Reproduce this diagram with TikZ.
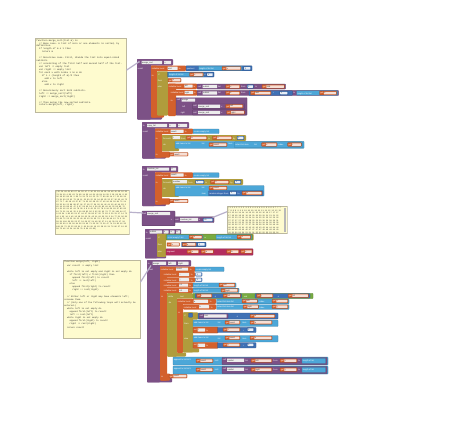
\documentclass[tikz,border=0pt]{standalone}
\usepackage{fontspec}
\setmainfont{Liberation Sans}
\setmonofont{Liberation Mono}
\usepackage{tikz}

\definecolor{procC}{HTML}{7C5186}
\definecolor{varC}{HTML}{D3602C}
\definecolor{ctrlC}{HTML}{B09C3C}
\definecolor{listC}{HTML}{4CA7D8}
\definecolor{mathC}{HTML}{3F71B5}
\definecolor{logicC}{HTML}{77AB41}
\definecolor{textC}{HTML}{B32D5E}
\definecolor{noteC}{HTML}{FEFBCF}
\definecolor{noteD}{HTML}{BCB89E}
\definecolor{linkC}{HTML}{B9B1CB}

\newcommand{\bfont}{\fontsize{2.1}{2.3}\selectfont}
\newcommand{\cfont}{\ttfamily\fontsize{2.3}{2.95}\selectfont}
\newcommand{\dfont}{\ttfamily\fontsize{2.2}{3.1}\selectfont}
\newcommand{\numfont}{\ttfamily\fontsize{1.9}{2.45}\selectfont}
\newcommand{\ind}{\hspace*{1.2em}}

% block with its label in the top row
\newcommand{\blk}[6]{\filldraw[#1] (#2,#3) rectangle (#4,#5);
  \node[lbl] at (#2,#3+3.3) {#6};}
% block with no label of its own
\newcommand{\plainblk}[5]{\filldraw[#1] (#2,#3) rectangle (#4,#5);}
% get block
\newcommand{\getb}[4]{\filldraw[varblk] (#1,#2) rectangle (#3,#2+3.6);
  \fill[white!80!varC, rounded corners=0.3pt] (#1+4.3,#2+0.55) rectangle (#3-0.6,#2+3.05);
  \node[lbl] at (#1,#2+2.6) {get};
  \node[fld] at (#1+4.6,#2+2.55) {#4};}
% number block
\newcommand{\numb}[4]{\filldraw[mathblk] (#1,#2) rectangle (#3,#2+3.6);
  \fill[white!88!mathC, rounded corners=0.3pt] (#1+0.7,#2+0.55) rectangle (#3-0.7,#2+3.05);
  \node[fld] at (#1+1.1,#2+2.55) {#4};}
% name field
\newcommand{\fieldb}[4]{\fill[white!93!black, rounded corners=0.3pt] (#1,#2) rectangle (#3,#2+3.2);
  \node[fld] at (#1+0.5,#2+2.4) {#4};}

\begin{document}
\begin{tikzpicture}[x=1pt, y=-1pt]
    \tikzset{
        procfill/.style={fill=procC, rounded corners=0.8pt},
        varfill/.style={fill=varC, rounded corners=0.8pt},
        ctrlfill/.style={fill=ctrlC, rounded corners=0.8pt},
        procblk/.style={fill=procC, draw=procC!70!black, line width=0.2pt, rounded corners=0.5pt},
        varblk/.style={fill=varC, draw=varC!75!black, line width=0.2pt, rounded corners=0.5pt},
        listblk/.style={fill=listC, draw=listC!75!black, line width=0.2pt, rounded corners=0.5pt},
        mathblk/.style={fill=mathC, draw=mathC!75!black, line width=0.2pt, rounded corners=0.5pt},
        logicblk/.style={fill=logicC, draw=logicC!75!black, line width=0.2pt, rounded corners=0.5pt},
        textblk/.style={fill=textC, draw=textC!75!black, line width=0.2pt, rounded corners=0.5pt},
        lbl/.style={anchor=base west, inner sep=0pt, xshift=0.7pt, font=\bfont, text=white},
        fld/.style={anchor=base west, inner sep=0pt, font=\bfont, text=black!80},
        note/.style={draw=noteD, fill=noteC, line width=0.4pt, anchor=north west,
            inner sep=1.2pt, text=black!80},
        link/.style={draw=linkC, line width=1.2pt},
    }
    \fill[white] (0,0) rectangle (474,442);
    \useasboundingbox (0,0) rectangle (474,442);

    % ==== merge_sort ====
    \fill[procfill] (137,59) rectangle (173,65.5);
    \fill[procfill] (137,59) rectangle (151,119.5);
    \fill[procfill] (137,115) rectangle (162,119.5);
    \node[lbl] (msort) at (137,63.6) {to};
    \fieldb{141.5}{60.8}{162}{merge\_sort}
    \fieldb{164}{60.8}{171}{x}
    \node[lbl] at (137,69.6) {result};
    \fill[varfill] (151,65.5) rectangle (186,71);
    \fill[varfill] (151,65.5) rectangle (157,117.5);
    \fill[varfill] (151,113) rectangle (164,117.5);
    \node[lbl] at (151,69.6) {initialize local};
    \fieldb{167.5}{66.6}{177.5}{mid}
    \node[lbl] at (178,69.6) {to};
    \node[lbl] at (151,76) {in};
    \blk{mathblk}{186}{65.8}{252}{70.8}{quotient}
    \blk{listblk}{198.5}{66.2}{242}{70.4}{length of list list}
    \getb{222}{66.5}{241}{x}
    \numb{243.5}{66.5}{251}{2}
    \fill[ctrlfill] (157,71.3) rectangle (168,115.5);
    \node[lbl] at (157.5,75.6) {if};
    \node[lbl] at (157,81.6) {then};
    \node[lbl] at (157,87.6) {else};
    \plainblk{mathblk}{167.5}{72}{214}{77}
    \blk{listblk}{168.3}{72.5}{204}{76.5}{length of list list}
    \getb{189.5}{72.7}{203.3}{x}
    \node[lbl] at (203.6,75.6) {≤};
    \numb{206.5}{72.7}{213.3}{1}
    \getb{168}{78.4}{181}{x}
    % split into halves
    \fill[varfill] (168,83.5) rectangle (197,89);
    \fill[varfill] (168,83.5) rectangle (176,116);
    \node[lbl] at (168,87.6) {initialize local};
    \fieldb{184.3}{84.5}{192.5}{left}
    \node[lbl] at (192.7,87.6) {to};
    \fill[varfill] (170,89.8) rectangle (197,95.6);
    \node[lbl] at (170,93.9) {initialize local};
    \fieldb{184.5}{90.9}{193}{right}
    \node[lbl] at (193,93.9) {to};
    \node[lbl] at (170,101.4) {in};
    \blk{procblk}{197}{84}{285.5}{89}{call}
    \fieldb{202.5}{84.9}{217}{sublist}
    \node[lbl] at (217.3,87.3) {list};
    \getb{225.5}{84.7}{240}{x}
    \node[lbl] at (240.2,87.3) {from};
    \numb{247}{84.7}{253.5}{1}
    \node[lbl] at (254.5,87.3) {to};
    \getb{262}{84.7}{284.5}{mid}
    \blk{procblk}{197}{90.4}{338.5}{95.6}{call}
    \fieldb{202.5}{91.4}{217}{sublist}
    \node[lbl] at (217.3,93.8) {list};
    \getb{225.5}{91.2}{240}{x}
    \node[lbl] at (240.2,93.8) {from};
    \plainblk{mathblk}{249}{90.8}{292.5}{95.3}
    \getb{250.5}{91.2}{271}{mid}
    \node[lbl] at (272,93.8) {+};
    \numb{279.5}{91.2}{288}{1}
    \node[lbl] at (292.5,93.8) {to};
    \blk{listblk}{296.5}{90.8}{337.5}{95.2}{length of list list}
    \getb{319.5}{91.2}{336.5}{x}
    % merge both sorted halves
    \blk{procblk}{176}{97.6}{247}{115.2}{call}
    \fieldb{181.5}{98.5}{195}{merge}
    \node[lbl] at (181.5,107.1) {left};
    \blk{procblk}{192.5}{103.6}{244.5}{108.8}{call}
    \fieldb{198}{104.6}{220}{merge\_sort}
    \node[lbl] at (220.5,107.1) {x};
    \getb{225.5}{104.4}{243}{left}
    \node[lbl] at (180,113.1) {right};
    \blk{procblk}{192.5}{109.8}{246}{115}{call}
    \fieldb{198}{110.8}{220}{merge\_sort}
    \node[lbl] at (220.5,113.3) {x};
    \getb{226.5}{110.6}{244.5}{right}
    \coordinate (g1) at (139.5,61.5);

    % ==== copy_list ====
    \fill[procfill] (142,122) rectangle (189,128.5);
    \fill[procfill] (142,122) rectangle (155,158.5);
    \fill[procfill] (142,154) rectangle (166,158.5);
    \node[lbl] (clist) at (142,126.6) {to};
    \fieldb{147}{123.8}{167}{copy\_list}
    \fieldb{169}{123.8}{176}{x}
    \fieldb{178}{123.8}{187}{n}
    \node[lbl] at (142,132.6) {result};
    \fill[varfill] (155,128.5) rectangle (193,134);
    \fill[varfill] (155,128.5) rectangle (162,157.5);
    \fill[varfill] (155,151.7) rectangle (170,157.5);
    \node[lbl] at (155,132.6) {initialize local};
    \fieldb{170.5}{129.6}{183.5}{result}
    \node[lbl] at (184,132.6) {to};
    \blk{listblk}{193}{129}{219}{133.6}{create empty list}
    \node[lbl] at (155,139) {in};
    \fill[ctrlfill] (162,135) rectangle (246,140.8);
    \fill[ctrlfill] (162,135) rectangle (175,151.2);
    \fill[ctrlfill] (162,148.2) rectangle (179,151.2);
    \node[lbl] at (162.5,139.1) {for each};
    \fieldb{172.5}{136}{180}{i}
    \node[lbl] at (180.2,139.1) {from};
    \getb{186.5}{136.1}{207}{a}
    \node[lbl] at (207.5,139.1) {to};
    \getb{212.5}{136.1}{232}{n}
    \node[lbl] at (232.3,139.1) {by};
    \numb{237}{136.1}{244}{1}
    \node[lbl] at (162.5,145) {do};
    \blk{listblk}{175}{141.3}{304}{148.3}{add items to list}
    \node[lbl] at (201,144.6) {list};
    \getb{209}{142.8}{227}{result}
    \node[lbl] at (227.5,144.6) {item};
    \blk{listblk}{234.5}{141.8}{302.5}{147.8}{select list item}
    \node[lbl] at (253.5,145.1) {list};
    \getb{261.5}{142.7}{277}{x}
    \node[lbl] at (277.5,145.1) {index};
    \getb{287.5}{142.7}{301.5}{i}
    \node[lbl] at (155,155.9) {in};
    \getb{169.5}{152.5}{188}{result}

    % ==== random_list ====
    \fill[procfill] (142,166) rectangle (178,172.3);
    \fill[procfill] (142,166) rectangle (155,206);
    \fill[procfill] (142,201.5) rectangle (166,206);
    \node[lbl] (rlist) at (142,170.5) {to};
    \fieldb{147}{167.5}{169}{random\_list}
    \fieldb{171}{167.5}{176}{n}
    \node[lbl] at (142,176.5) {result};
    \fill[varfill] (155,172.3) rectangle (193,177.8);
    \fill[varfill] (155,172.3) rectangle (162,204.5);
    \fill[varfill] (155,198.4) rectangle (170,204.5);
    \node[lbl] at (155,176.4) {initialize local};
    \fieldb{170.5}{173.4}{183.5}{result}
    \node[lbl] at (184,176.4) {to};
    \blk{listblk}{193}{172.8}{219}{177.4}{create empty list}
    \node[lbl] at (155,183) {in};
    \fill[ctrlfill] (162,179) rectangle (243,185);
    \fill[ctrlfill] (162,179) rectangle (175,196.8);
    \fill[ctrlfill] (162,194) rectangle (179,196.8);
    \node[lbl] at (162.5,183.2) {for each};
    \fieldb{172.5}{180.1}{187}{number}
    \node[lbl] at (187.5,183.2) {from};
    \numb{195.5}{180.2}{204}{1}
    \node[lbl] at (204.5,183.2) {to};
    \getb{210.5}{180.2}{229}{n}
    \node[lbl] at (229.5,183.2) {by};
    \numb{234.5}{180.2}{241}{1}
    \node[lbl] at (162.5,189.5) {do};
    \blk{listblk}{175}{185.5}{264}{196}{add items to list}
    \node[lbl] at (201,188.8) {list};
    \getb{209}{186.2}{227}{result}
    \node[lbl] at (201,194.1) {item};
    \blk{mathblk}{208.5}{190.7}{263}{195.7}{random integer from}
    \numb{229.5}{191.3}{236.5}{1}
    \node[lbl] at (236.8,194.1) {to};
    \getb{242}{191.3}{262}{n}
    \node[lbl] at (155,202.3) {in};
    \getb{169.5}{199.2}{188}{result}

    % ==== test call ====
    \blk{procblk}{142}{211}{175}{225.8}{call}
    \fieldb{147}{212}{170}{merge\_sort}
    \node[lbl] at (170,220.6) {x};
    \blk{procblk}{174.5}{216.8}{214}{222.6}{call}
    \fieldb{180}{217.8}{198}{random\_list}
    \node[lbl] at (198.2,220.6) {n};
    \numb{203}{218}{213}{20}
    \coordinate (g4in) at (143,213);
    \coordinate (g4out) at (212.5,217.5);

    % ==== sublist ====
    \fill[procfill] (145,229) rectangle (181,234.5);
    \fill[procfill] (145,229) rectangle (157,258.3);
    \fill[procfill] (145,254) rectangle (166,258.3);
    \node[lbl] (slist) at (145,233.4) {to};
    \fieldb{149.5}{230.3}{162}{sublist}
    \fieldb{163.5}{230.3}{168.5}{x}
    \fieldb{170}{230.3}{174.5}{a}
    \fieldb{176}{230.3}{180}{b}
    \node[lbl] at (145,239.4) {result};
    \fill[ctrlfill] (157,233.8) rectangle (253.5,240.3);
    \fill[ctrlfill] (157,233.8) rectangle (166,256.8);
    \node[lbl] at (157.5,238.3) {if};
    \node[lbl] at (157,245.6) {then};
    \node[lbl] at (157,252.6) {else};
    \plainblk{logicblk}{166}{234.4}{252.5}{239.7}
    \blk{listblk}{167}{234.8}{203}{239.3}{is list empty? list}
    \getb{189}{235.2}{202.3}{x}
    \node[lbl] at (203.5,238.1) {or};
    \blk{listblk}{216}{234.8}{251.5}{239.3}{length of list list}
    \getb{237}{235.2}{250.8}{x}
    \getb{167}{242.6}{179.5}{x}
    \plainblk{mathblk}{181.5}{242.2}{206}{246.8}
    \getb{182.3}{242.6}{196}{a}
    \numb{197.5}{242.6}{205.2}{1}
    \blk{textblk}{166}{248.8}{253}{255.2}{segment}
    \getb{187}{249.7}{199}{x}
    \getb{201}{249.7}{213.5}{a}
    \getb{226.5}{249.7}{239}{b}
    \getb{240.5}{249.7}{252.2}{x}

    % ==== merge ====
    \fill[procfill] (147,260) rectangle (191,266.5);
    \fill[procfill] (147,260) rectangle (160,382.3);
    \fill[procfill] (147,378) rectangle (172,382.3);
    \node[lbl] (mrg) at (147,264.5) {to};
    \fieldb{152.5}{261.6}{166}{merge}
    \fieldb{168}{261.6}{176}{left}
    \fieldb{178}{261.6}{188.5}{right}
    \node[lbl] at (147,270.5) {result};
    \fill[varfill] (160,266.5) rectangle (195,271.8);
    \fill[varfill] (160,266.5) rectangle (167,380.5);
    \fill[varfill] (160,373.5) rectangle (170,380.5);
    \node[lbl] at (160,270.5) {initialize local};
    \fieldb{176}{267.5}{188}{result}
    \node[lbl] at (189,270.5) {to};
    \blk{listblk}{195}{267}{224}{271.4}{create empty list}
    \fill[varfill] (163,272) rectangle (195,277);
    \node[lbl] at (163,275.8) {initialize local};
    \fieldb{179}{272.9}{189}{i}
    \node[lbl] at (190,275.8) {to};
    \numb{195.5}{272.6}{202}{1}
    \fill[varfill] (163,277.3) rectangle (195,282.3);
    \node[lbl] at (163,281.1) {initialize local};
    \fieldb{179}{278.2}{189}{j}
    \node[lbl] at (190,281.1) {to};
    \numb{195.5}{277.9}{202}{1}
    \fill[varfill] (163,282.6) rectangle (193,287.6);
    \node[lbl] at (163,286.4) {initialize local};
    \fieldb{179}{283.5}{188}{n1}
    \node[lbl] at (188.3,286.4) {to};
    \blk{listblk}{193}{282.9}{236}{287.3}{length of list list}
    \getb{219}{283.2}{235}{left}
    \fill[varfill] (163,287.9) rectangle (193,292.9);
    \node[lbl] at (163,291.7) {initialize local};
    \fieldb{179}{288.8}{188}{n2}
    \node[lbl] at (188.3,291.7) {to};
    \blk{listblk}{193}{288.2}{239}{292.6}{length of list list}
    \getb{221}{288.5}{238}{right}
    \node[lbl] at (160.5,297.5) {in};
    % while loop
    \fill[ctrlfill] (167,293.2) rectangle (193,298.6);
    \fill[ctrlfill] (167,293.2) rectangle (177,356.5);
    \fill[ctrlfill] (167,352.5) rectangle (186,356.5);
    \node[lbl] at (167.5,297.3) {while};
    \node[lbl] at (179.5,297.3) {test};
    \plainblk{logicblk}{193}{293.3}{313}{298.5}
    \node[lbl] at (243,297.2) {and};
    \plainblk{mathblk}{195}{293.7}{241.5}{298.1}
    \getb{196.5}{293.9}{212}{i}
    \node[lbl] at (214,297.2) {≤};
    \getb{223}{293.9}{240.5}{n1}
    \plainblk{mathblk}{255}{293.7}{310}{298.1}
    \getb{256.5}{293.9}{273}{j}
    \node[lbl] at (277,297.2) {≤};
    \getb{288}{293.9}{308.5}{n2}
    \node[lbl] at (168,303) {do};
    \fill[varfill] (177,298.8) rectangle (216,304);
    \fill[varfill] (177,298.8) rectangle (183,353);
    \node[lbl] at (177,302.8) {initialize local};
    \fieldb{193.5}{299.7}{208}{a}
    \node[lbl] at (209,302.8) {to};
    \blk{listblk}{216.5}{299}{289}{303.8}{select list item list}
    \getb{242}{299.3}{257.5}{left}
    \node[lbl] at (258.5,302.4) {index};
    \getb{272}{299.3}{288}{i}
    \fill[varfill] (183,304.3) rectangle (216,309.5);
    \node[lbl] at (183,308.3) {initialize local};
    \fieldb{199}{305.2}{209}{b}
    \node[lbl] at (210,308.3) {to};
    \blk{listblk}{216.5}{304.6}{289}{309.4}{select list item list}
    \getb{243}{304.9}{258.5}{right}
    \node[lbl] at (258.5,308) {index};
    \getb{272}{304.9}{288}{j}
    \node[lbl] at (177.5,313.5) {in};
    % if / else
    \fill[ctrlfill] (183,312.3) rectangle (198,319.5);
    \fill[ctrlfill] (183,312.3) rectangle (193,352.3);
    \fill[ctrlfill] (183,348.3) rectangle (199,352.3);
    \node[lbl] at (183.5,316.5) {if};
    \filldraw[mathblk] (188.5,313.2) rectangle (192.5,317.2);
    \plainblk{mathblk}{198}{313}{278}{319}
    \blk{procblk}{199}{313.6}{228}{318.4}{call}
    \fieldb{204}{314.4}{226.5}{first}
    \node[lbl] at (236,317.3) {≤};
    \getb{250}{314.3}{275}{b}
    \node[lbl] at (183.5,324.4) {then};
    \blk{listblk}{193}{320}{278}{326.4}{add items to list}
    \node[lbl] at (217,323.8) {list};
    \getb{225}{320.6}{240}{result}
    \node[lbl] at (241.5,323.8) {item};
    \getb{250}{320.6}{272}{a}
    \blk{varblk}{193}{327}{218}{333}{set}
    \fieldb{197.5}{328.3}{205}{i}
    \node[lbl] at (205.5,331.2) {to};
    \plainblk{mathblk}{217.5}{327.4}{256}{332.6}
    \getb{223}{327.8}{240}{i}
    \node[lbl] at (242,331.1) {+};
    \numb{247}{327.8}{254}{1}
    \node[lbl] at (183.5,339.9) {else};
    \blk{listblk}{193}{335.5}{278}{341.9}{add items to list}
    \node[lbl] at (217,339.3) {list};
    \getb{225}{336.1}{240}{result}
    \node[lbl] at (241.5,339.3) {item};
    \getb{250}{336.1}{272}{b}
    \blk{varblk}{193}{342.3}{218}{348.3}{set}
    \fieldb{197.5}{343.6}{205}{j}
    \node[lbl] at (205.5,346.5) {to};
    \plainblk{mathblk}{217.5}{342.7}{256}{347.9}
    \getb{223}{343.1}{240}{j}
    \node[lbl] at (242,346.4) {+};
    \numb{247}{343.1}{254}{1}
    % rest of both lists
    \blk{listblk}{173}{357}{328}{365}{append to list list1}
    \getb{196}{358.9}{213}{result}
    \node[lbl] at (214,361.6) {list2};
    \blk{procblk}{222}{357.5}{327}{364.5}{call}
    \fieldb{227}{358.6}{244}{sublist}
    \node[lbl] at (244.5,361.4) {list};
    \getb{251}{358.8}{272}{left}
    \node[lbl] at (272.5,361.4) {from};
    \getb{280}{358.8}{297}{i}
    \node[lbl] at (297.5,361.4) {to};
    \blk{listblk}{302}{358.3}{325.5}{363.3}{length of list}
    \blk{listblk}{173}{366}{328}{374}{append to list list1}
    \getb{196}{367.9}{213}{result}
    \node[lbl] at (214,370.6) {list2};
    \blk{procblk}{222}{366.5}{327}{373.5}{call}
    \fieldb{227}{367.6}{244}{sublist}
    \node[lbl] at (244.5,370.4) {list};
    \getb{251}{367.8}{272}{right}
    \node[lbl] at (272.5,370.4) {from};
    \getb{280}{367.8}{297}{j}
    \node[lbl] at (297.5,370.4) {to};
    \blk{listblk}{302}{367.3}{325.5}{372.3}{length of list}
    \node[lbl] at (160.5,377.6) {in};
    \getb{169}{374.4}{187}{result}
    \coordinate (g6) at (151,265.5);

    % ==== comments ====
    \node[note] (note1) at (35,38) {\parbox[t][71.6pt][t]{88.6pt}{\cfont\raggedright
        function merge\_sort(list m) is\\
        \ind // Base case. A list of zero or one elements is sorted, by definition.\\
        \ind if length of m ≤ 1 then\\
        \ind\ind return m\\[2.95pt]
        \ind // Recursive case. First, divide the list into equal-sized sublists\\
        \ind // consisting of the first half and second half of the list.\\
        \ind var left := empty list\\
        \ind var right := empty list\\
        \ind for each x with index i in m do\\
        \ind\ind if i < (length of m)/2 then\\
        \ind\ind\ind add x to left\\
        \ind\ind else\\
        \ind\ind\ind add x to right\\[2.95pt]
        \ind // Recursively sort both sublists.\\
        \ind left := merge\_sort(left)\\
        \ind right := merge\_sort(right)\\[2.95pt]
        \ind // Then merge the now-sorted sublists.\\
        \ind return merge(left, right)}};

    \pgfmathsetseed{11}
    \begin{scope}
        \clip (54.5,189.5) rectangle (129.5,234.5);
        \node[note] (note2) at (55,190) {\parbox[t][41.6pt][t]{71.6pt}{\numfont\raggedright
            (\foreach \k in {1,...,330}{\pgfmathrandominteger{\rn}{1}{100}\rn\ }\unskip)}};
    \end{scope}

    \begin{scope}
        \clip (226.5,205.5) rectangle (287.5,233.5);
        \node[note] (note3) at (227,206) {\parbox[t][24.6pt][t]{57.6pt}{\numfont\raggedright
            \rightskip=4.5pt plus 1fil
            (\foreach \k in {1,...,190}{\pgfmathtruncatemacro{\sv}{(\k-1)/3.3+1}\sv\ }\unskip)}};
    \end{scope}
    \fill[black!28] (283.8,207.5) rectangle (285.5,231.5);

    \node[note] (note4) at (63,260) {\parbox[t][75.6pt][t]{74.6pt}{\dfont\raggedright
        function merge(left, right)\\
        \ind var result := empty list\\[3.1pt]
        \ind while left is not empty and right is not empty do\\
        \ind\ind if first(left) ≤ first(right) then\\
        \ind\ind\ind append first(left) to result\\
        \ind\ind\ind left := rest(left)\\
        \ind\ind else\\
        \ind\ind\ind append first(right) to result\\
        \ind\ind\ind right := rest(right)\\[3.1pt]
        \ind // Either left or right may have elements left; consume them.\\
        \ind // (Only one of the following loops will actually be entered.)\\
        \ind while left is not empty do\\
        \ind\ind append first(left) to result\\
        \ind\ind left := rest(left)\\
        \ind while right is not empty do\\
        \ind\ind append first(right) to result\\
        \ind\ind right := rest(right)\\
        \ind return result}};

    % ==== comment links ====
    \draw[link] ([yshift=5pt]note1.east) -- (g1);
    \draw[link] (note2.east) -- (g4in);
    \draw[link] ([yshift=8pt]note3.west) -- (g4out);
    \draw[link] ([yshift=17pt]note4.east) -- (g6);
\end{tikzpicture}
\end{document}
